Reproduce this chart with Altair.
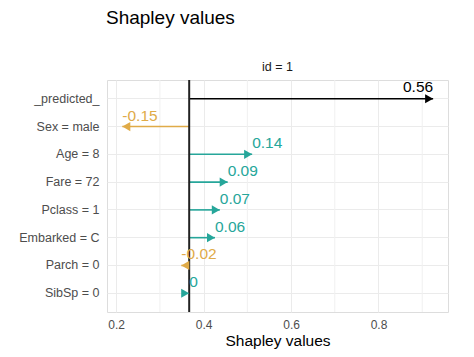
import altair as alt
import pandas as pd

title_text = "Shapley values"
strip_text = "id = 1"
x_title = "Shapley values"

features = ["_predicted_", "Sex = male", "Age = 8", "Fare = 72", "Pclass = 1",
            "Embarked = C", "Parch = 0", "SibSp = 0"]
values = [0.558, -0.153, 0.144, 0.088, 0.070, 0.059, -0.018, 0.0]
baseline = 0.367
x_ticks = [0.2, 0.4, 0.6, 0.8]
minor_ticks = [0.3, 0.5, 0.7, 0.9]
x_domain = [0.179, 0.959]

kinds = []
labels = []
for i, v in enumerate(values):
    if i == 0:
        kinds.append("pred")
    elif v >= 0:
        kinds.append("pos")
    else:
        kinds.append("neg")
    r = round(v, 2)
    labels.append(f"{r:g}" if r != 0 else "0")

df = pd.DataFrame({
    "feature": features,
    "start": [baseline] * len(values),
    "end": [baseline + v for v in values],
    "label": labels,
    "kind": kinds,
})

W, H = 341, 232
FONT = "Liberation Sans"

xs = alt.Scale(domain=x_domain, nice=False, zero=False)
ys = alt.Scale(domain=features, padding=0.35, round=False)

arrow_col = alt.Scale(domain=["pred", "pos", "neg"], range=["#000000", "#26a69a", "#e0ab48"])
text_col = alt.Scale(domain=["pred", "pos", "neg"], range=["#000000", "#3dbbae", "#e8b462"])

base = alt.Chart(df)

y_enc = alt.Y("feature:N", scale=ys, sort=features,
              axis=alt.Axis(title=None, domain=False, ticks=False, grid=True,
                            gridColor="#ebebeb", labelFontSize=12.5, labelColor="#4d4d4d",
                            labelPadding=8, labelFont=FONT))

minor = alt.Chart(pd.DataFrame({"m": minor_ticks})).mark_rule(
    color="#f0f0f0", strokeWidth=1).encode(x=alt.X("m:Q", scale=xs))

shafts = base.mark_rule(strokeWidth=1.6).encode(
    x=alt.X("start:Q", scale=xs,
            axis=alt.Axis(values=x_ticks, format=".1f", title=x_title, domain=False,
                          ticks=False, grid=True, gridColor="#ebebeb",
                          labelFontSize=12, labelColor="#4d4d4d", labelPadding=7,
                          labelFont=FONT, titleFont=FONT, titleFontSize=15.5,
                          titleFontWeight="normal", titleColor="#000000",
                          titlePadding=3)),
    x2="end:Q",
    y=y_enc,
    color=alt.Color("kind:N", scale=arrow_col, legend=None),
)

vline = alt.Chart(pd.DataFrame({"b": [baseline]})).mark_rule(
    color="#222222", strokeWidth=2).encode(x=alt.X("b:Q", scale=xs))

heads_r = base.transform_filter("datum.kind != 'neg'").mark_point(
    shape="triangle-right", filled=True, size=85, opacity=1, xOffset=-4).encode(
    x=alt.X("end:Q", scale=xs), y=alt.Y("feature:N", scale=ys, sort=features),
    color=alt.Color("kind:N", scale=arrow_col, legend=None))

heads_l = base.transform_filter("datum.kind == 'neg'").mark_point(
    shape="triangle-left", filled=True, size=85, opacity=1, xOffset=4).encode(
    x=alt.X("end:Q", scale=xs), y=alt.Y("feature:N", scale=ys, sort=features),
    color=alt.Color("kind:N", scale=arrow_col, legend=None))

txt = base.transform_filter("datum.kind != 'pred'").mark_text(
    align="left", baseline="alphabetic", dy=-6, fontSize=15.5, font=FONT).encode(
    x=alt.X("end:Q", scale=xs), y=alt.Y("feature:N", scale=ys, sort=features),
    text="label:N",
    color=alt.Color("kind:N", scale=text_col, legend=None))

txt_pred = base.transform_filter("datum.kind == 'pred'").mark_text(
    align="right", baseline="alphabetic", dy=-7, fontSize=15.5, font=FONT,
    color="#000000").encode(
    x=alt.X("end:Q", scale=xs), y=alt.Y("feature:N", scale=ys, sort=features),
    text="label:N")

title_mark = alt.Chart(pd.DataFrame({"t": [title_text]})).mark_text(
    align="left", baseline="middle", fontSize=19, font=FONT, color="#000000").encode(
    text="t:N", x=alt.value(-1), y=alt.value(-62))

strip_mark = alt.Chart(pd.DataFrame({"t": [strip_text]})).mark_text(
    align="center", baseline="middle", fontSize=12.5, font=FONT, color="#1a1a1a").encode(
    text="t:N", x=alt.value(W / 2), y=alt.value(-13))

chart = alt.layer(minor, shafts, vline, heads_r, heads_l, txt, txt_pred,
                  title_mark, strip_mark).properties(
    width=W, height=H,
    autosize=alt.AutoSizeParams(type="none"),
    padding={"left": 99, "top": 72, "right": 18, "bottom": 37},
).configure_view(stroke=None).configure(background="#ffffff")

chart.save("out.html", embed_options={"renderer": "svg", "actions": False})
